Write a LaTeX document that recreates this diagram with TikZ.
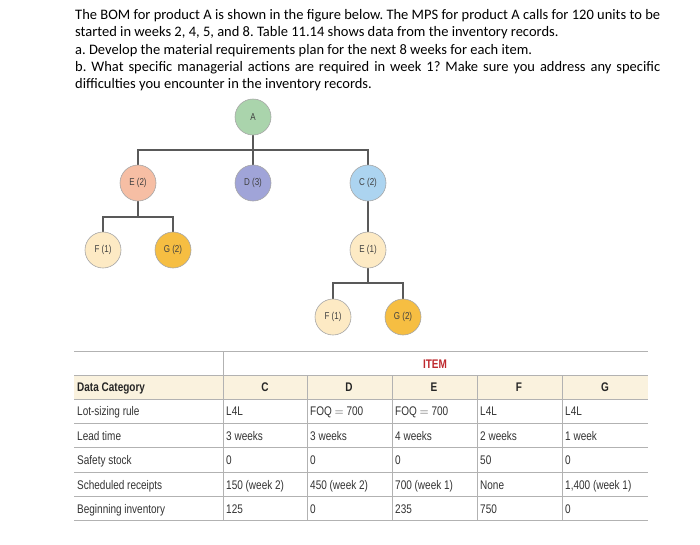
\documentclass[tikz,border=0pt]{standalone}
\usepackage{fontspec}
\setmainfont{Carlito}
\newfontfamily\tabfont[FakeStretch=0.8]{Liberation Sans}
\definecolor{cA}{RGB}{170,212,172}
\definecolor{cE}{RGB}{246,190,164}
\definecolor{cD}{RGB}{160,164,216}
\definecolor{cC}{RGB}{172,212,240}
\definecolor{cF}{RGB}{253,234,196}
\definecolor{cG}{RGB}{246,190,66}
\definecolor{cHead}{RGB}{250,242,222}
\definecolor{cRed}{RGB}{190,40,45}
\frenchspacing
\begin{document}
\begin{tikzpicture}[x=1pt,y=-1pt,
  bom/.style={circle,draw=gray!70,line width=0.6pt,minimum size=36pt,inner sep=0pt,font=\tabfont\fontsize{10}{11}\selectfont,text=black!75},
  link/.style={draw=black!65,line width=2pt},
  txt/.style={anchor=base west,inner sep=0pt,font=\fontsize{14.5}{16}\selectfont},
  cell/.style={anchor=base west,inner sep=0pt,font=\tabfont\fontsize{12.5}{14}\selectfont,text=black!80},
  hcell/.style={anchor=base,inner sep=0pt,font=\tabfont\bfseries\fontsize{12.5}{14}\selectfont,text=black!85},
  grid/.style={draw=black!30,line width=0.8pt}]
\useasboundingbox (0,0) rectangle (700,544);
% text
\node[txt] (t1) at (75,19) {\makebox[585pt][s]{The BOM for product A is shown in the figure below. The MPS for product A calls for 120 units to be}};
\node[txt] (t2) at (75,36) {started in weeks 2, 4, 5, and 8. Table 11.14 shows data from the inventory records.};
\node[txt] (t3) at (75,54) {a. Develop the material requirements plan for the next 8 weeks for each item.};
\node[txt] (t4) at (75,71) {\makebox[585pt][s]{b. What specific managerial actions are required in week 1? Make sure you address any specific}};
\node[txt] (t5) at (75,88) {difficulties you encounter in the inventory records.};
% tree links
\coordinate (b1) at (253,150);
\coordinate (b1l) at (138,150);
\coordinate (b1r) at (368,150);
\coordinate (b2l) at (103,217);
\coordinate (b2r) at (173,217);
\coordinate (b3l) at (333,283);
\coordinate (b3r) at (403,283);
\draw[link] (253,117) -- (b1);
\draw[link] (138,183) -- (b1l) -- (b1r) -- (368,183);
\draw[link] (b1) -- (253,183);
\draw[link] (138,183) -- (138,217) (103,250) -- (b2l) -- (b2r) -- (173,250);
\draw[link] (368,183) -- (368,250);
\draw[link] (368,250) -- (368,283) (333,317) -- (b3l) -- (b3r) -- (403,317);
\node[bom,fill=cA] (A) at (253,117) {A};
\node[bom,fill=cE] (E2) at (138,183) {E (2)};
\node[bom,fill=cD] (D3) at (253,183) {D (3)};
\node[bom,fill=cC] (C2) at (368,183) {C (2)};
\node[bom,fill=cF] (F1a) at (103,250) {F (1)};
\node[bom,fill=cG] (G2a) at (173,250) {G (2)};
\node[bom,fill=cF] (E1) at (368,250) {E (1)};
\node[bom,fill=cF] (F1b) at (333,317) {F (1)};
\node[bom,fill=cG] (G2b) at (403,317) {G (2)};
% table
\fill[cHead] (74,375) rectangle (648,399);
\foreach \y in {351,375,399,423,447,472,496,520} \draw[grid] (74,\y) -- (648,\y);
\draw[grid] (223,351) -- (223,520);
\foreach \x in {307,392,477,562} \draw[grid] (\x,375) -- (\x,520);
\node[anchor=base,inner sep=0pt,font=\tabfont\bfseries\fontsize{12.5}{14}\selectfont,text=cRed] (item) at (435,368) {ITEM};
\node[cell,font=\tabfont\bfseries\fontsize{12.5}{14}\selectfont,text=black!85] (dc) at (77,391) {Data Category};
\node[hcell] (hc) at (265,391) {C};
\node[hcell] (hd) at (349,391) {D};
\node[hcell] (he) at (434,391) {E};
\node[hcell] (hf) at (519,391) {F};
\node[hcell] (hg) at (605,391) {G};
\foreach \r/\y/\a/\b/\c/\d/\e/\f in {
  1/415/Lot-sizing rule/L4L/FOQ $=$ 700/FOQ $=$ 700/L4L/L4L,
  2/440/Lead time/3 weeks/3 weeks/4 weeks/2 weeks/1 week,
  3/464/Safety stock/0/0/0/50/0,
  4/489/Scheduled receipts/150 (week 2)/450 (week 2)/700 (week 1)/None/{1,400 (week 1)},
  5/513/Beginning inventory/125/0/235/750/0}{
  \node[cell] (ra\r) at (77,\y) {\a};
  \node[cell] (rc\r) at (226,\y) {\b};
  \node[cell] (rd\r) at (310,\y) {\c};
  \node[cell] (re\r) at (395,\y) {\d};
  \node[cell] (rf\r) at (480,\y) {\e};
  \node[cell] (rg\r) at (565,\y) {\f};
}
\end{tikzpicture}
\end{document}
